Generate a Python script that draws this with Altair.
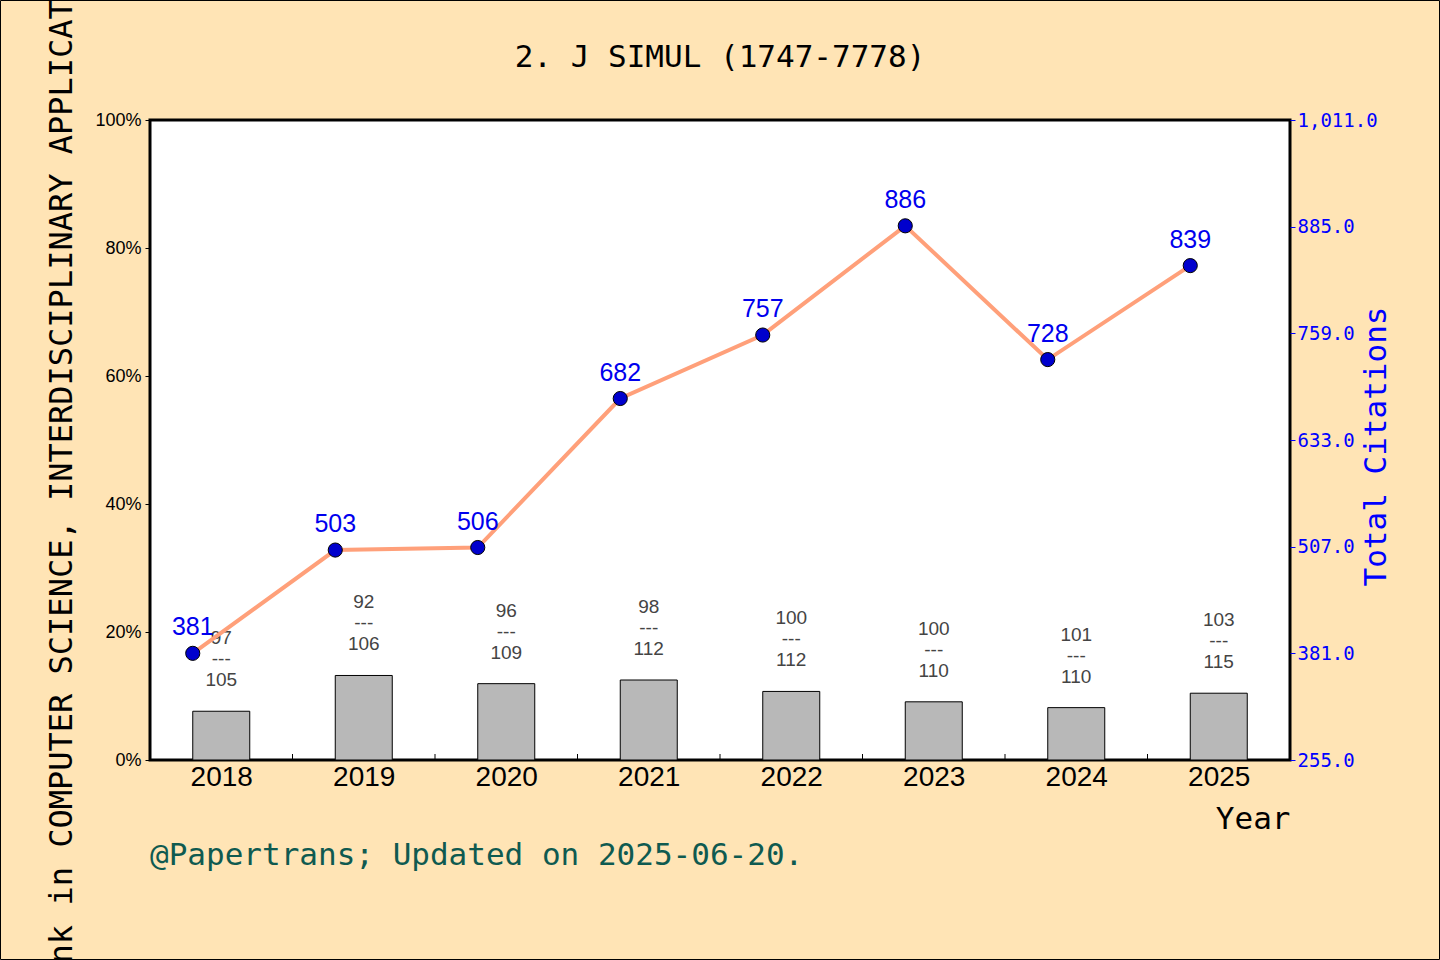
import altair as alt
import pandas as pd

years = [2018, 2019, 2020, 2021, 2022, 2023, 2024, 2025]
ranks = [97, 92, 96, 98, 100, 100, 101, 103]
totals = [105, 106, 109, 112, 112, 110, 110, 115]
citations = [381, 503, 506, 682, 757, 886, 728, 839]
cite_ticks = [255, 381, 507, 633, 759, 885, 1011]
pct_ticks = [0, 0.2, 0.4, 0.6, 0.8, 1.0]

title_text = "2. J SIMUL (1747-7778)"
left_title = "Rank in COMPUTER SCIENCE, INTERDISCIPLINARY APPLICATIONS"
right_title = "Total Citations"
x_title = "Year"
footnote = "@Papertrans; Updated on 2025-06-20."

df = pd.DataFrame({"year": years, "rank": ranks, "total": totals, "cites": citations})

MONO = "DejaVu Sans Mono"
SANS = "Liberation Sans"

base = alt.Chart(df).transform_calculate(
    pct="1 - datum.rank / datum.total",
    x0="datum.year - 0.2",
    x1="datum.year + 0.2",
    mid="datum.year + 0.5",
    label="datum.rank + '\\n---\\n' + datum.total",
)

xscale = alt.Scale(domain=[2017.5, 2025.5], nice=False, zero=False)
yl = alt.Scale(domain=[0, 1], nice=False)
yr = alt.Scale(domain=[255, 1011], nice=False, zero=False)

x_axis = alt.Axis(
    values=years, format="d", labelFont=SANS, labelFontSize=28, labelPadding=3,
    labelColor="black", ticks=False, domain=False, grid=False, labelFlush=False,
    labelOverlap=False,
    title=x_title, titleFont=MONO, titleFontSize=31, titleFontWeight="normal",
    titleColor="black", titleAnchor="end", titleAlign="right",
    titleBaseline="alphabetic", titleX=1140, titleY=68,
)
left_axis = alt.Axis(
    orient="left", values=pct_ticks, format=".0%", labelFont=SANS, labelFontSize=18,
    labelPadding=4, labelColor="black", tickSize=5, tickColor="black", domain=False,
    grid=False, labelOverlap=False, labelFlush=False,
    title=left_title, titleFont=MONO, titleFontSize=32, titleFontWeight="normal",
    titleColor="black", titleAngle=270, titleBaseline="alphabetic", titleAlign="center",
    titleX=-79, titleY=342,
)
right_axis = alt.Axis(
    orient="right", values=cite_ticks, format=",.1f", labelFont=MONO, labelFontSize=19,
    labelColor="blue", tickColor="blue", tickSize=5, labelPadding=2, domain=False,
    grid=False, labelOverlap=False, labelFlush=False,
    title=right_title, titleFont=MONO, titleFontSize=31, titleFontWeight="normal",
    titleColor="blue", titleAngle=270, titleBaseline="alphabetic", titleAlign="center",
    titleX=95, titleY=326,
)

bars = base.mark_bar(fill="#B8B8B8", stroke="black", strokeWidth=1).encode(
    x=alt.X("x0:Q", scale=xscale, axis=x_axis),
    x2="x1:Q",
    y=alt.Y("pct:Q", scale=yl, axis=left_axis),
    y2=alt.datum(0),
)

mid_ticks = base.transform_filter("datum.year < 2025").mark_rule(
    color="black", strokeWidth=1
).encode(
    x=alt.X("mid:Q", scale=xscale, axis=x_axis),
    y=alt.value(640),
    y2=alt.value(634),
)

rank_labels = base.mark_text(
    font=SANS, fontSize=19, color="#444444", lineBreak="\n", baseline="middle",
    lineHeight=21, dy=-73,
).encode(
    x=alt.X("year:Q", scale=xscale, axis=x_axis),
    y=alt.Y("pct:Q", scale=yl, axis=None),
    text="label:N",
)

line = base.mark_line(color="#FFA07A", strokeWidth=4).encode(
    x=alt.X("x0:Q", scale=xscale, axis=x_axis),
    y=alt.Y("cites:Q", scale=yr, axis=right_axis),
)

points = base.mark_circle(
    size=200, fill="#0000CD", stroke="black", strokeWidth=1, opacity=1
).encode(
    x=alt.X("x0:Q", scale=xscale, axis=x_axis),
    y=alt.Y("cites:Q", scale=yr, axis=None),
)

cite_labels = base.mark_text(
    font=SANS, fontSize=25, color="#0000EE", baseline="middle", dy=-26
).encode(
    x=alt.X("x0:Q", scale=xscale, axis=x_axis),
    y=alt.Y("cites:Q", scale=yr, axis=None),
    text="cites:Q",
)

one = alt.Data(values=[{"t": footnote, "h": title_text}])

note = alt.Chart(one).mark_text(
    align="left", baseline="alphabetic", font=MONO, fontSize=31, color="#0f5a50"
).encode(x=alt.value(0), y=alt.value(745), text="t:N")

head = alt.Chart(one).mark_text(
    align="center", baseline="alphabetic", font=MONO, fontSize=31, color="black"
).encode(x=alt.value(570), y=alt.value(-53), text="h:N")

border = alt.Chart(one).mark_rect(
    filled=False, stroke="black", strokeWidth=1
).encode(
    x=alt.value(-149.5), x2=alt.value(1289.5), y=alt.value(-119.5), y2=alt.value(839.5)
)

chart = alt.layer(
    bars, mid_ticks, rank_labels, line, points, cite_labels, note, head, border
).resolve_scale(y="independent").properties(
    width=1140,
    height=640,
    padding={"left": 150, "top": 120, "right": 150, "bottom": 200},
    autosize=alt.AutoSizeParams(type="none"),
    background="#FFE4B5",
).configure_view(fill="white", stroke="black", strokeWidth=3)

chart.save("out.html", embed_options={"renderer": "svg", "actions": False})
